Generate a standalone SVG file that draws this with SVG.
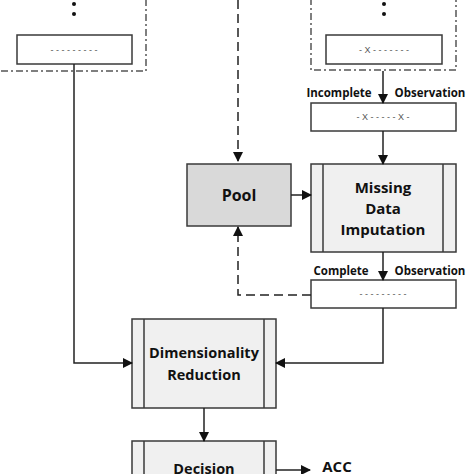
<svg xmlns="http://www.w3.org/2000/svg" width="474" height="474" viewBox="0 0 474 474">
<style>
.box{stroke:#3a3a3a;stroke-width:1.5;fill:#fff}
.proc{stroke:#3a3a3a;stroke-width:1.5;fill:#f0f0f0}
.cont{stroke:#555;stroke-width:1.5;fill:none;stroke-dasharray:7 3 2 3}
.ln{stroke:#222;stroke-width:1.5;fill:none}
.dash{stroke:#222;stroke-width:1.5;fill:none;stroke-dasharray:9 5}
.t{font-family:"Open Sans","Liberation Sans",sans-serif;font-weight:bold;fill:#111;text-anchor:middle}
.s{font-family:"Liberation Sans",sans-serif;font-size:9px;fill:#555;text-anchor:middle}
</style>
<defs>
<marker id="ah" markerWidth="10" markerHeight="10" refX="9" refY="5" orient="auto" markerUnits="userSpaceOnUse">
<path d="M0,0 L10,5 L0,10 Z" fill="#111"/>
</marker>
</defs>
<g id="left-source">
<rect class="cont" x="-10" y="-10" width="156" height="81"/>
<circle cx="74" cy="4" r="2" fill="#111"/>
<circle cx="74" cy="14" r="2" fill="#111"/>
<rect class="box" x="17" y="35" width="115" height="29"/>
<text class="s" x="74" y="53">- - - - - - - - -</text>
</g>
<g id="right-source">
<rect class="cont" x="311" y="-10" width="145" height="80"/>
<circle cx="384" cy="4" r="2" fill="#111"/>
<circle cx="384" cy="14" r="2" fill="#111"/>
<rect class="box" x="326" y="35" width="116" height="29"/>
<text class="s" x="384" y="53">- X - - - - - - -</text>
</g>
<g id="incomplete">
<rect class="box" x="311" y="103" width="145" height="28"/>
<text class="s" x="383" y="120">- X - - - - - X -</text>
</g>
<g id="pool">
<rect class="box" x="187" y="164" width="104" height="62" style="fill:#d9d9d9"/>
<text class="t" x="239" y="201" font-size="16">Pool</text>
</g>
<g id="imputation">
<rect class="proc" x="311" y="164" width="145" height="88"/>
<line class="box" x1="323" y1="164" x2="323" y2="252"/>
<line class="box" x1="443" y1="164" x2="443" y2="252"/>
<text class="t" x="383" y="193" font-size="15">Missing</text>
<text class="t" x="383" y="214" font-size="15">Data</text>
<text class="t" x="383" y="235" font-size="15">Imputation</text>
</g>
<g id="complete">
<rect class="box" x="311" y="280" width="145" height="28"/>
<text class="s" x="383" y="297">- - - - - - - - -</text>
</g>
<g id="dimred">
<rect class="proc" x="132" y="319" width="144" height="89"/>
<line class="box" x1="144" y1="319" x2="144" y2="408"/>
<line class="box" x1="264" y1="319" x2="264" y2="408"/>
<text class="t" x="204" y="358" font-size="14.5">Dimensionality</text>
<text class="t" x="204" y="380" font-size="14.5">Reduction</text>
</g>
<g id="decision">
<rect class="proc" x="132" y="441" width="144" height="45"/>
<line class="box" x1="144" y1="441" x2="144" y2="486"/>
<line class="box" x1="264" y1="441" x2="264" y2="486"/>
<text class="t" x="204" y="474" font-size="14.5">Decision</text>
</g>
<g id="acc">
<text class="t" x="337" y="472" font-size="15">ACC</text>
</g>
<g id="labels">
<text class="t" x="339" y="97" font-size="11.5">Incomplete</text>
<text class="t" x="430" y="97" font-size="11.5">Observation</text>
<text class="t" x="341" y="275" font-size="11.5">Complete</text>
<text class="t" x="430" y="275" font-size="11.5">Observation</text>
</g>
<g id="connectors">
<path class="dash" d="M238,0 L238,161" marker-end="url(#ah)"/>
<path class="ln" d="M383,71 L383,103" marker-end="url(#ah)"/>
<path class="ln" d="M383,131 L383,164" marker-end="url(#ah)"/>
<path class="ln" d="M291,195 L311,195" marker-end="url(#ah)"/>
<path class="ln" d="M383,252 L383,280" marker-end="url(#ah)"/>
<path class="dash" d="M311,295 L238,295 L238,227" marker-end="url(#ah)"/>
<path class="ln" d="M74,64 L74,363 L132,363" marker-end="url(#ah)"/>
<path class="ln" d="M383,308 L383,363 L276,363" marker-end="url(#ah)"/>
<path class="ln" d="M204,408 L204,441" marker-end="url(#ah)"/>
<path class="ln" d="M276,470 L310,470" marker-end="url(#ah)"/>
</g>
</svg>
